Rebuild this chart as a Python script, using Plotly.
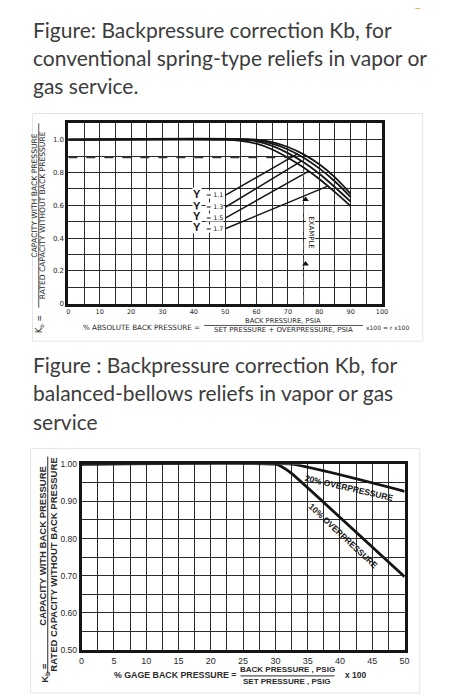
import numpy as np
import plotly.graph_objects as go

W, H = 457, 700
# the page body adds an 8px margin round the figure, so layout positions are shifted back by it
OFF = 8

# ---- Figure 1: conventional spring-type reliefs ----
gamma_labels = ['1.1', '1.3', '1.5', '1.7']

curve_g11_x = [0, 60, 65, 70, 75, 80, 85, 90]
curve_g11_y = [1.0, 1.0, 0.985, 0.955, 0.91, 0.85, 0.77, 0.67]
curve_g13_x = [0, 57, 60, 65, 70, 75, 80, 85, 90]
curve_g13_y = [1.0, 1.0, 0.995, 0.975, 0.94, 0.89, 0.825, 0.745, 0.65]
curve_g15_x = [0, 54, 60, 65, 70, 75, 80, 85, 90]
curve_g15_y = [1.0, 1.0, 0.99, 0.962, 0.918, 0.862, 0.792, 0.71, 0.622]
curve_g17_x = [0, 50, 55, 60, 65, 70, 75, 80, 85, 90]
curve_g17_y = [1.0, 1.0, 0.993, 0.975, 0.94, 0.89, 0.83, 0.76, 0.68, 0.595]

# leader lines from the gamma labels to the curves
leader_start_x = 50
leader_start_y = [0.66, 0.588, 0.522, 0.457]
leader_end_x = [73, 74.5, 76.5, 82.5]
leader_end_y = [0.913, 0.872, 0.806, 0.715]

# worked example
example_kb = 0.89
example_kb_x_end = 71
example_bp = 75
example_bp_y_end = 0.87
example_arrow_y = [0.635, 0.242]

x1_ticks = [0, 10, 20, 30, 40, 50, 60, 70, 80, 90, 100]
y1_ticks = [0, 0.2, 0.4, 0.6, 0.8, 1.0]
y1_ticktext = ['0', '0.2', '0.4', '0.6', '0.8', '1.0']

# ---- Figure 2: balanced-bellows reliefs ----
over10_x = [0, 30, 31, 32.5, 50]
over10_y = [1.0, 1.0, 0.993, 0.975, 0.697]
over20_x = [0, 32.5, 50]
over20_y = [1.0, 1.0, 0.927]

x2_ticks = [0, 5, 10, 15, 20, 25, 30, 35, 40, 45, 50]
y2_ticks = [0.5, 0.6, 0.7, 0.8, 0.9, 1.0]


def px(x):
    return (x - OFF) / W


def py(y):
    return 1 - (y - OFF) / H


INK = '#151515'
GRID = '#2b2b2b'
TXT = '#3c3c3c'
LBL = '#2a2a2a'
FONT = 'Liberation Sans'
DRAFT = 'DejaVu Sans'

fig = go.Figure()

# chart 1 curves
for cx, cy in [(curve_g11_x, curve_g11_y), (curve_g13_x, curve_g13_y),
               (curve_g15_x, curve_g15_y), (curve_g17_x, curve_g17_y)]:
    fig.add_trace(go.Scatter(x=cx, y=cy, mode='lines',
                             line=dict(color=INK, width=1.8, shape='spline', smoothing=0.8),
                             xaxis='x', yaxis='y', showlegend=False, hoverinfo='skip'))

for sy, ex, ey in zip(leader_start_y, leader_end_x, leader_end_y):
    fig.add_trace(go.Scatter(x=[leader_start_x, ex], y=[sy, ey], mode='lines',
                             line=dict(color=INK, width=1.5),
                             xaxis='x', yaxis='y', showlegend=False, hoverinfo='skip'))

fig.add_trace(go.Scatter(x=[0, example_kb_x_end], y=[example_kb, example_kb], mode='lines',
                         line=dict(color='#333', width=1.3, dash='dash'),
                         xaxis='x', yaxis='y', showlegend=False, hoverinfo='skip'))
fig.add_trace(go.Scatter(x=[example_bp, example_bp], y=[0, example_bp_y_end], mode='lines',
                         line=dict(color='#666', width=1, dash='dashdot'),
                         xaxis='x', yaxis='y', showlegend=False, hoverinfo='skip'))
fig.add_trace(go.Scatter(x=[example_bp + 0.6] * len(example_arrow_y), y=example_arrow_y,
                         mode='markers', marker=dict(symbol='triangle-up', size=6, color=INK),
                         xaxis='x', yaxis='y', showlegend=False, hoverinfo='skip'))

# chart 2 curves
for cx, cy in [(over10_x, over10_y), (over20_x, over20_y)]:
    fig.add_trace(go.Scatter(x=cx, y=cy, mode='lines',
                             line=dict(color=INK, width=2.8, shape='spline', smoothing=0.4),
                             xaxis='x2', yaxis='y2', showlegend=False, hoverinfo='skip'))

axis_common = dict(showgrid=True, gridcolor=GRID, gridwidth=1.2, showline=True,
                   linecolor=INK, linewidth=2.8, mirror=True, zeroline=False,
                   ticks='', fixedrange=True)

fig.update_layout(
    width=W, height=H,
    margin=dict(l=0, r=0, t=0, b=0),
    paper_bgcolor='white', plot_bgcolor='white',
    xaxis=dict(axis_common, domain=[px(66.5), px(386.5)], range=[0, 100],
               tickmode='array', tickvals=x1_ticks,
               minor=dict(tickmode='linear', tick0=0, dtick=5, showgrid=True,
                          gridcolor=GRID, gridwidth=1.2),
               tickfont=dict(family=DRAFT, size=6.5, color=LBL), anchor='y'),
    yaxis=dict(axis_common, domain=[py(303), py(119.8)], range=[0, 1.1],
               tickmode='array', tickvals=y1_ticks, ticktext=y1_ticktext,
               minor=dict(tickmode='linear', tick0=0, dtick=0.1, showgrid=True,
                          gridcolor=GRID, gridwidth=1.2),
               tickfont=dict(family=DRAFT, size=7, color=LBL), anchor='x'),
    xaxis2=dict(axis_common, domain=[px(80), px(409.5)], range=[0, 50],
                tickmode='array', tickvals=x2_ticks,
                minor=dict(tickmode='linear', tick0=0, dtick=2.5, showgrid=True,
                           gridcolor=GRID, gridwidth=1.2),
                tickfont=dict(family=FONT, size=9, color=LBL), anchor='y2'),
    yaxis2=dict(axis_common, domain=[py(654.3), py(465.7)], range=[0.5, 1.0],
                tickmode='array', tickvals=y2_ticks, tickformat='.2f',
                minor=dict(tickmode='linear', tick0=0.5, dtick=0.05, showgrid=True,
                           gridcolor=GRID, gridwidth=1.2),
                tickfont=dict(family=FONT, size=8.5, color=LBL), anchor='x2'),
)

ann = []


def note(x, y, text, size, **kw):
    d = dict(x=px(x), y=py(y), xref='paper', yref='paper', text=text, showarrow=False,
             font=dict(family=kw.pop('family', FONT), size=size, color=kw.pop('color', LBL)),
             xanchor=kw.pop('xanchor', 'center'), yanchor=kw.pop('yanchor', 'middle'))
    d.update(kw)
    ann.append(d)


# headings
HEAD = 'Lato'
for hy, line in [(25, 'Figure: Backpressure correction Kb, for'),
                 (53.5, 'conventional spring-type reliefs in vapor or'),
                 (82, 'gas service.'),
                 (365, 'Figure : Backpressure correction Kb, for'),
                 (393.5, 'balanced-bellows reliefs in vapor or gas'),
                 (422, 'service')]:
    note(28, hy, line, 21, family=HEAD, color=TXT, xanchor='left')

# chart 1 axis titles
note(32.3, 193.5, 'CAPACITY WITH BACK PRESSURE', 7.6, family=DRAFT, textangle=-90)
note(40.3, 213.5, 'RATED CAPACITY WITHOUT BACK PRESSURE', 7.6, family=DRAFT, textangle=-90)
note(38, 323, 'K<sub>b</sub> =', 8, family=DRAFT, textangle=-90)
note(203, 327.5, '% ABSOLUTE BACK PRESSURE =', 7.2, family=DRAFT, xanchor='right')
note(285, 320.8, 'BACK PRESSURE, PSIA', 6.8, family=DRAFT)
note(286, 329.3, 'SET PRESSURE + OVERPRESSURE, PSIA', 7, family=DRAFT)
note(368, 327.5, 'x100 = r x100', 6, family=DRAFT, xanchor='left')

# gamma labels: large Y plus small value
for lbl, ly in zip(gamma_labels, leader_start_y):
    ann.append(dict(x=41.0, y=ly + 0.01, xref='x', yref='y', showarrow=False, text='<b>Y</b>',
                    font=dict(family=FONT, size=11, color=INK),
                    xanchor='center', yanchor='middle', bgcolor='white', borderpad=0))
    ann.append(dict(x=leader_start_x - 0.3, y=ly + 0.004, xref='x', yref='y', showarrow=False,
                    text='= ' + lbl, font=dict(family=DRAFT, size=6.3, color=INK),
                    xanchor='right', yanchor='middle', bgcolor='white', borderpad=0))
ann.append(dict(x=example_bp + 2.1, y=0.435, xref='x', yref='y', showarrow=False,
                text='EXAMPLE', textangle=90, font=dict(family=DRAFT, size=7, color=INK),
                bgcolor='white', borderpad=0))

# chart 2 labels
ann.append(dict(x=41.4, y=0.937, xref='x2', yref='y2', showarrow=False,
                text='<b>20% OVERPRESSURE</b>', textangle=13,
                font=dict(family=FONT, size=8.5, color=INK)))
ann.append(dict(x=40.5, y=0.807, xref='x2', yref='y2', showarrow=False,
                text='<b>10% OVERPRESSURE</b>', textangle=43,
                font=dict(family=FONT, size=8.5, color=INK)))

# chart 2 axis titles
note(40, 548, '<b>CAPACITY WITH BACK PRESSURE</b>', 9.5, textangle=-90)
note(50.5, 568, '<b>RATED CAPACITY WITHOUT BACK PRESSURE</b>', 9.5, textangle=-90)
note(43, 677, '<b>K<sub>b</sub> =</b>', 9.5, textangle=-90)
note(240, 679.5, '<b>% GAGE BACK PRESSURE =</b>', 8.8, xanchor='right')
note(290, 674.5, '<b>BACK PRESSURE , PSIG</b>', 8)
note(290, 686.5, '<b>SET PRESSURE , PSIG</b>', 8)
note(347, 679.5, '<b>x 100</b>', 8.5, xanchor='left')

fig.update_layout(annotations=ann)

shapes = [
    # frames around the two pictures
    dict(type='rect', xref='paper', yref='paper', x0=px(30), x1=px(428), y0=py(341), y1=py(110),
         line=dict(color='#e4e4e4', width=1), layer='below'),
    dict(type='rect', xref='paper', yref='paper', x0=px(28), x1=px(425), y0=py(698), y1=py(450),
         line=dict(color='#e4e4e4', width=1), layer='below'),
    # fraction bars
    dict(type='line', xref='paper', yref='paper', x0=px(36.3), x1=px(36.3), y0=py(307), y1=py(120),
         line=dict(color=LBL, width=0.8)),
    dict(type='line', xref='paper', yref='paper', x0=px(205), x1=px(367), y0=py(325), y1=py(325),
         line=dict(color=LBL, width=0.8)),
    dict(type='line', xref='paper', yref='paper', x0=px(45.5), x1=px(45.5), y0=py(678), y1=py(458),
         line=dict(color=LBL, width=1)),
    dict(type='line', xref='paper', yref='paper', x0=px(242), x1=px(338), y0=py(680.5), y1=py(680.5),
         line=dict(color=LBL, width=1)),
    # orange badge at top right
    dict(type='circle', xref='paper', yref='paper', x0=px(416), x1=px(430), y0=py(4), y1=py(-10),
         fillcolor='#e8b04c', line=dict(width=0)),
]
fig.update_layout(shapes=shapes)

fig.write_html('out.html')
